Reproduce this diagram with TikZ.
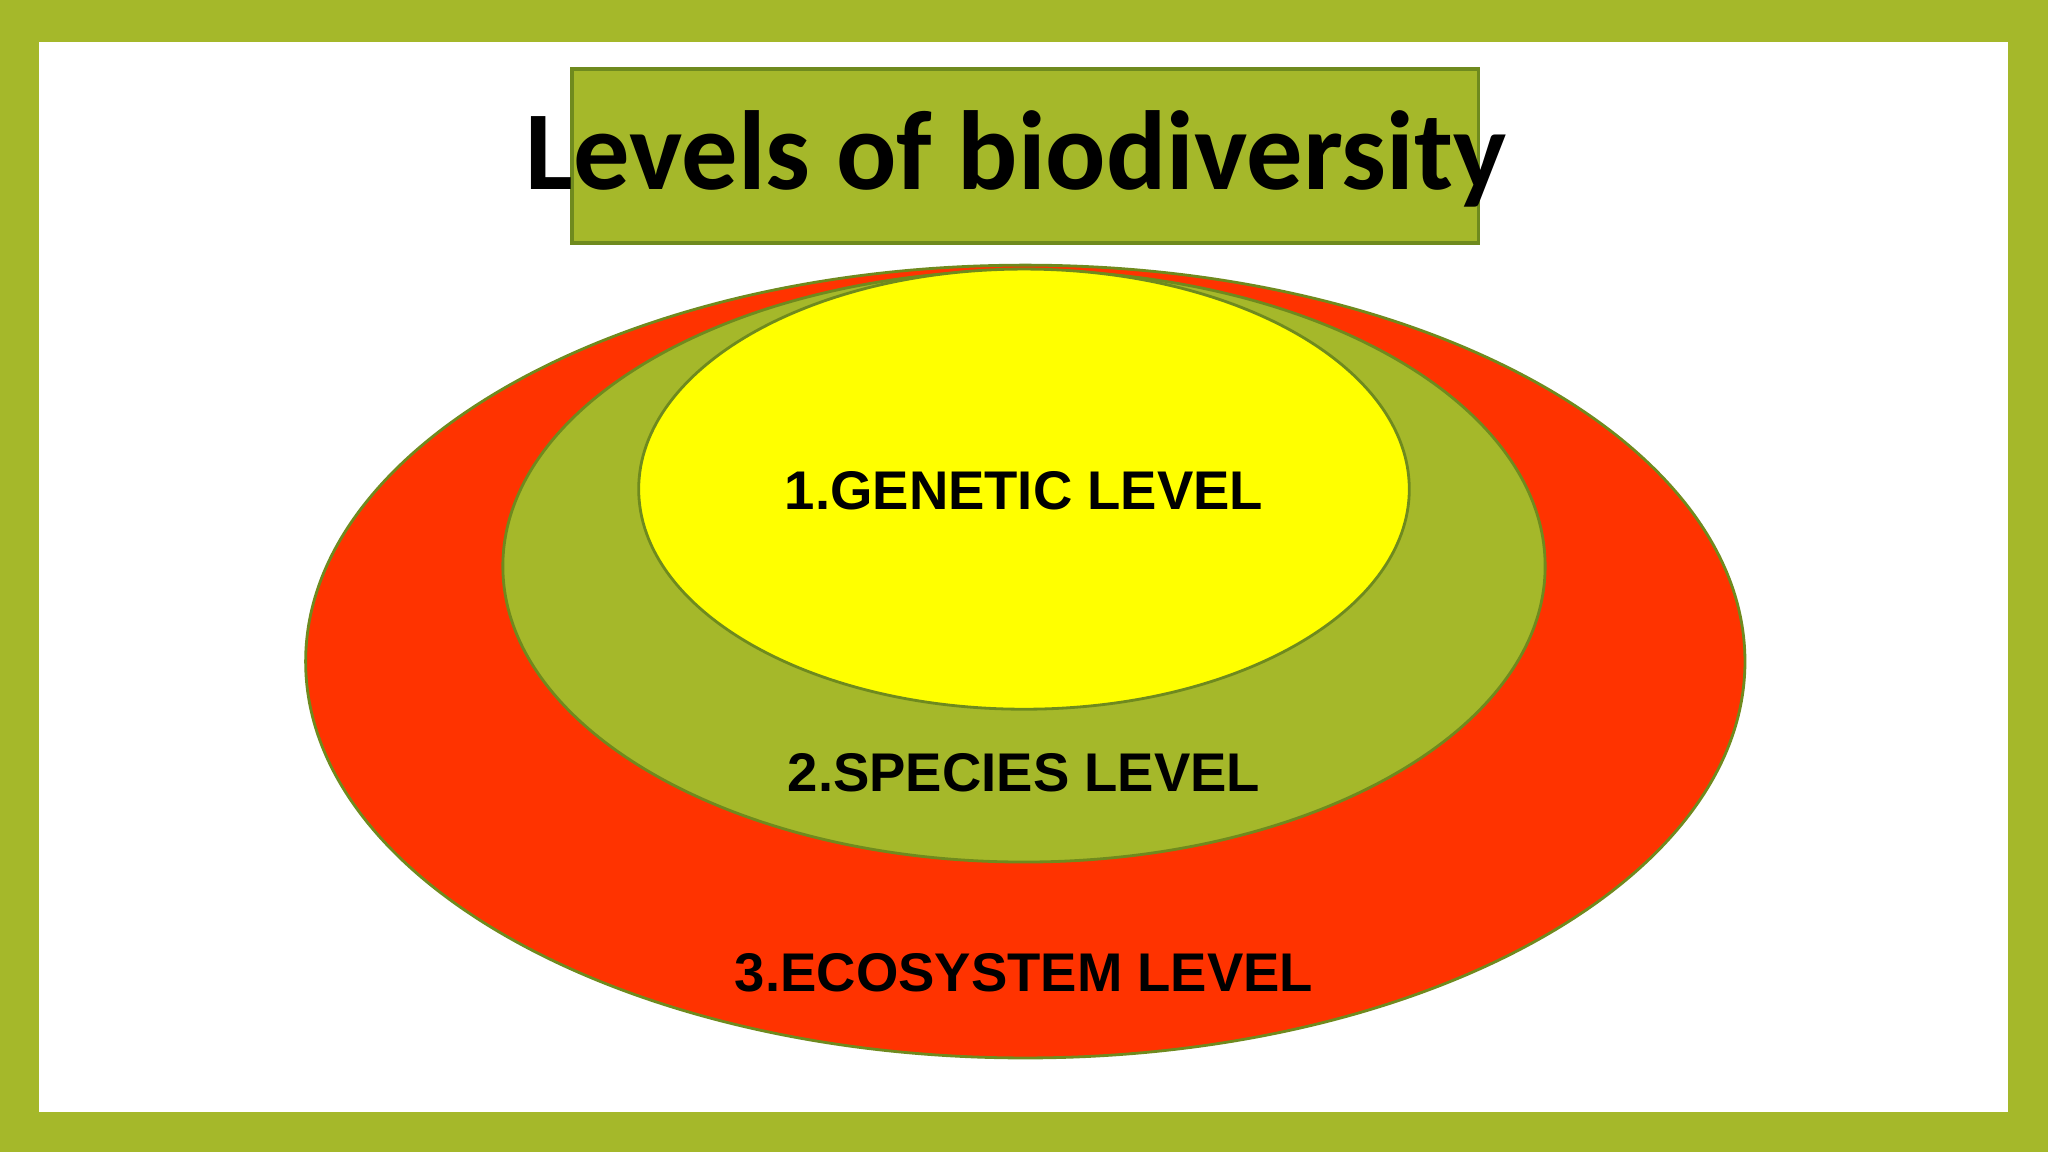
\documentclass[tikz,border=0pt]{standalone}
\usepackage{fontspec}
\setmainfont{Liberation Sans}
\newfontfamily\titlefont{Carlito}
\definecolor{olive}{HTML}{A5B82A}
\definecolor{edge}{HTML}{6F8A1E}
\definecolor{redlvl}{HTML}{FF3300}
\definecolor{yel}{HTML}{FFFF00}
\begin{document}
\begin{tikzpicture}[x=0.013061cm,y=-0.013061cm,
  lvl/.style={font=\bfseries\fontsize{15.5}{18}\selectfont, text=black},
  ring/.style={draw=edge, line width=0.8pt}]
\fill[olive] (0,0) rectangle (1568,882);
\fill[white] (30,32) rectangle (1537,851);
\useasboundingbox (0,0) rectangle (1568,882);
\node[draw=edge, fill=olive, line width=1pt, minimum width=694*0.013061cm, minimum height=133*0.013061cm, inner sep=0pt] (title) at (785,119.5) {};
\node[font=\titlefont\bfseries\fontsize{32}{38}\selectfont, anchor=center] (tt) at (778,122) {Levels of biodiversity};
\draw[ring, fill=redlvl] (785,506.5) ellipse [x radius=551, y radius=303.5];
\draw[ring, fill=olive] (784,433.5) ellipse [x radius=399, y radius=226.5];
\draw[ring, fill=yel] (784,374.5) ellipse [x radius=295, y radius=168.5];
\node[lvl] (g) at (784,376) {1.GENETIC LEVEL};
\node[lvl] (s) at (784,592) {2.SPECIES LEVEL};
\node[lvl] (e) at (784,745) {3.ECOSYSTEM LEVEL};
\end{tikzpicture}
\end{document}
